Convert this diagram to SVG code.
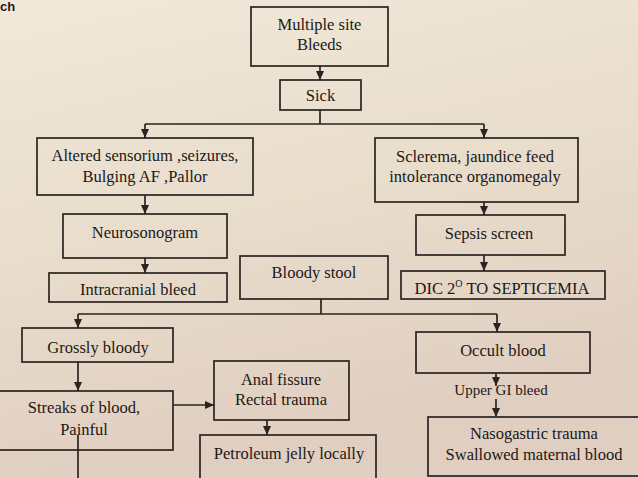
<svg xmlns="http://www.w3.org/2000/svg" width="638" height="478" viewBox="0 0 638 478">
<defs>
<linearGradient id="bg" x1="0" y1="0" x2="0.3" y2="1">
<stop offset="0" stop-color="#f1e9da"/>
<stop offset="0.5" stop-color="#e9ddcc"/>
<stop offset="1" stop-color="#e0cec0"/>
</linearGradient>
<marker id="ah" markerUnits="userSpaceOnUse" markerWidth="10" markerHeight="11" refX="9" refY="4" orient="auto">
<path d="M0,0 L9,4 L0,8 Z" fill="#2a2421"/>
</marker>
<style>
.box{fill:none;stroke:#2a2421;stroke-width:1.7}
.t{font-family:"Liberation Serif","Times New Roman",serif;font-size:16.5px;fill:#1c1816;text-anchor:middle}
.s{font-size:15px}
.c{fill:none;stroke:#2a2421;stroke-width:1.7}
.a{marker-end:url(#ah)}
</style>
</defs>
<rect width="638" height="478" fill="url(#bg)"/>
<text x="0" y="11" font-family="'Liberation Sans',Arial,sans-serif" font-weight="bold" font-size="13" fill="#1e1a18">ch</text>

<g id="connectors">
<path class="c a" d="M320,66 V80"/>
<path class="c" d="M320,110 V124 M145,124 H484"/>
<path class="c a" d="M145,124 V138"/>
<path class="c a" d="M484,124 V138"/>
<path class="c a" d="M145,195 V214"/>
<path class="c a" d="M145,258 V273"/>
<path class="c a" d="M484,202 V215"/>
<path class="c a" d="M484,255 V271"/>
<path class="c" d="M321,299 V314 M78,314 H497"/>
<path class="c a" d="M78,314 V328"/>
<path class="c a" d="M497,314 V332"/>
<path class="c a" d="M78,362 V391"/>
<path class="c a" d="M173,405 H214"/>
<path class="c a" d="M267,420 V435"/>
<path class="c a" d="M496,373 V386"/>
<text class="t s" x="501" y="395">Upper GI bleed</text>
<path class="c a" d="M496,399 V417"/>
<path class="c" d="M78,435 V478"/>
</g>

<g id="n1"><rect class="box" x="251" y="7" width="137" height="59"/>
<text class="t" x="319.5" y="30">Multiple site</text><text class="t" x="319.5" y="50">Bleeds</text></g>
<g id="n2"><rect class="box" x="280" y="80" width="81" height="30"/>
<text class="t" x="320.5" y="101">Sick</text></g>
<g id="n3"><rect class="box" x="37" y="138" width="216" height="57"/>
<text class="t" x="145" y="161">Altered sensorium ,seizures,</text><text class="t" x="145" y="182">Bulging AF ,Pallor</text></g>
<g id="n4"><rect class="box" x="375" y="138" width="203" height="64"/>
<text class="t" x="475" y="162">Sclerema, jaundice feed</text><text class="t" x="475" y="182">intolerance organomegaly</text></g>
<g id="n5"><rect class="box" x="63" y="214" width="164" height="44"/>
<text class="t" x="145" y="238">Neurosonogram</text></g>
<g id="n6"><rect class="box" x="49" y="273" width="178" height="29"/>
<text class="t" x="138" y="295">Intracranial bleed</text></g>
<g id="n7"><rect class="box" x="240" y="256" width="148" height="43"/>
<text class="t" x="314" y="278">Bloody stool</text></g>
<g id="n8"><rect class="box" x="416" y="215" width="149" height="40"/>
<text class="t" x="489" y="239">Sepsis screen</text></g>
<g id="n9"><rect class="box" x="401" y="271" width="204" height="28"/>
<text class="t" x="502" y="294">DIC 2<tspan font-size="10" dy="-7">O</tspan><tspan dy="7"> TO SEPTICEMIA</tspan></text></g>
<g id="n10"><rect class="box" x="22" y="328" width="151" height="34"/>
<text class="t" x="98" y="353">Grossly bloody</text></g>
<g id="n11"><rect class="box" x="-2" y="391" width="175" height="59"/>
<text class="t" x="84" y="413">Streaks of blood,</text><text class="t" x="84" y="435">Painful</text></g>
<g id="n12"><rect class="box" x="214" y="361" width="135" height="59"/>
<text class="t" x="281" y="385">Anal fissure</text><text class="t" x="281" y="405">Rectal trauma</text></g>
<g id="n13"><rect class="box" x="200" y="435" width="176" height="50"/>
<text class="t" x="289" y="459">Petroleum jelly locally</text></g>
<g id="n14"><rect class="box" x="416" y="332" width="174" height="41"/>
<text class="t" x="503" y="356">Occult blood</text></g>
<g id="n15"><rect class="box" x="428" y="417" width="220" height="59"/>
<text class="t" x="534" y="439">Nasogastric trauma</text><text class="t" x="534" y="460">Swallowed maternal blood</text></g>
</svg>
